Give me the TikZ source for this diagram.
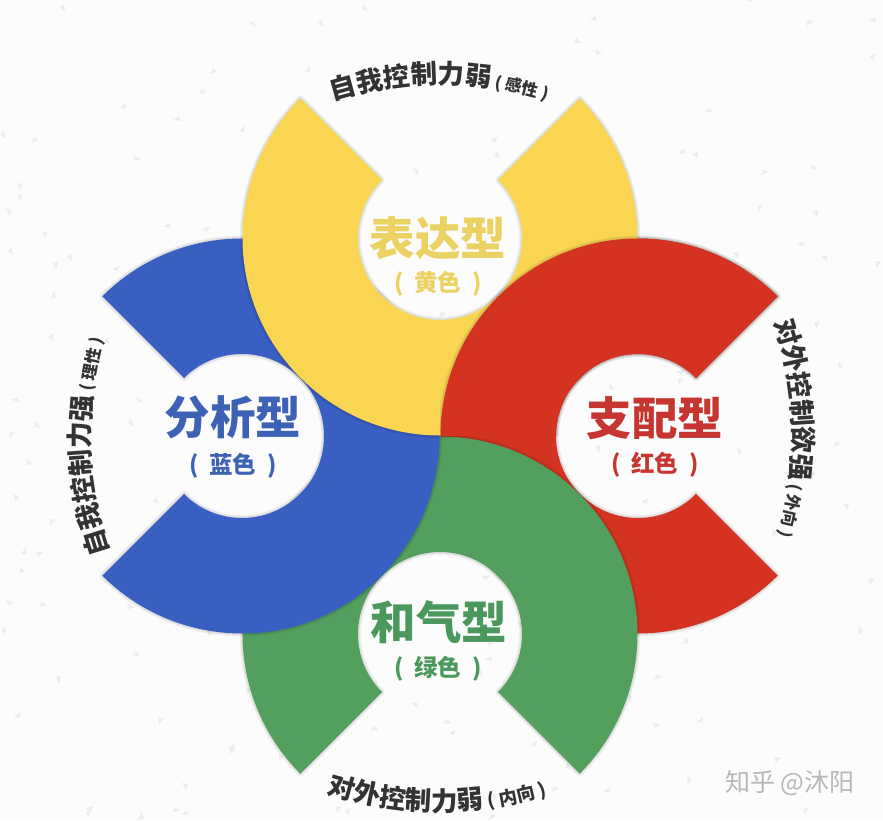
\documentclass[tikz,border=0pt]{standalone}
\usepackage{fontspec}
\usetikzlibrary{calc}
\usetikzlibrary{decorations.text}
\newfontfamily\cjk{Noto Sans CJK SC}
\newcommand{\bigtext}{\cjk\bfseries\fontsize{26.6}{27}\selectfont\color{arctext}}
\newcommand{\smalltext}{\cjk\bfseries\fontsize{16.5}{17}\selectfont\color{arctext}}
\newcommand{\lowtext}{\cjk\bfseries\fontsize{18.5}{19}\selectfont\color{arctext}}
\definecolor{arctext}{HTML}{333333}
\definecolor{petalyellow}{HTML}{F9D552}
\definecolor{petalblue}{HTML}{3A5FC2}
\definecolor{petalred}{HTML}{D53322}
\definecolor{petalgreen}{HTML}{529F5E}
\definecolor{textyellow}{HTML}{EBD162}
\definecolor{textblue}{HTML}{3D61B5}
\definecolor{textred}{HTML}{C73530}
\definecolor{textgreen}{HTML}{4A985B}
\newcommand{\petalpath}[2]{(#1) ++(#2:197.5) arc[start angle=#2, delta angle=270, radius=197.5] -- ($(#1)+(#2+270:82)$) arc[start angle=#2+270, delta angle=-270, radius=82] -- cycle}
\newcommand{\petal}[3]{
    \foreach \w in {6,4,2} {
        \draw[black, opacity=0.045, line width=\w pt, shift={(1,-2)}, line join=round] \petalpath{#1}{#2};
    }
    \fill[#3] \petalpath{#1}{#2};
}
\tikzset{
    typelabel/.style={font=\cjk\bfseries\fontsize{45.5}{46}\selectfont, inner sep=0pt},
    colorlabel/.style={font=\cjk\bfseries\fontsize{23.5}{24}\selectfont, inner sep=0pt},
    arclabel/.style={decorate, decoration={text along path, text={#1}}},
    speck/.style={fill=black!7}
}

\begin{document}
\begin{tikzpicture}[x=1pt, y=1pt]
    \useasboundingbox (0,0) rectangle (883,820);
    \fill[white!99!black] (0,0) rectangle (883,820);
    \pgfmathsetseed{11}
    \foreach \i in {1,...,190} {
        \pgfmathsetmacro{\px}{rnd*883}
        \pgfmathsetmacro{\py}{rnd*820}
        \pgfmathsetmacro{\pa}{rnd*360}
        \fill[speck, rotate around={\pa:(\px,\py)}] (\px,\py) -- ++(8,1) -- ++(-4,4) -- cycle;
    }
    \coordinate (mid) at (440,384);
    \coordinate (ctryellow) at (440,582);
    \coordinate (ctrblue) at (242,384);
    \coordinate (ctrred) at (638,384);
    \coordinate (ctrgreen) at (440,186);

    \petal{ctrred}{45}{petalred}
    \petal{ctrgreen}{-45}{petalgreen}
    \petal{ctrblue}{-135}{petalblue}
    \petal{ctryellow}{135}{petalyellow}
    \begin{scope}
        \clip (mid) rectangle (883,820);
        \petal{ctrred}{45}{petalred}
    \end{scope}

    \node[typelabel, text=textyellow] (typeyellow) at (438,582) {表达型};
    \node[colorlabel, text=textyellow] (subyellow) at (438,536) {(\hspace{.45em}黄色\hspace{.45em})};
    \node[typelabel, text=textblue] (typeblue) at (233,403) {分析型};
    \node[colorlabel, text=textblue] (subblue) at (233,354) {(\hspace{.45em}蓝色\hspace{.45em})};
    \node[typelabel, text=textred] (typered) at (655,402) {支配型};
    \node[colorlabel, text=textred] (subred) at (655,355) {(\hspace{.45em}红色\hspace{.45em})};
    \node[typelabel, text=textgreen] (typegreen) at (439,198) {和气型};
    \node[colorlabel, text=textgreen] (subgreen) at (438,151) {(\hspace{.45em}绿色\hspace{.45em})};

    \path[arclabel={|\bigtext|自我控制力弱|\smalltext| (  感性  )}] (mid) ++(107.7:352) arc[start angle=107.7, end angle=50, radius=352];
    \path[arclabel={|\bigtext|自我控制力强|\smalltext| (  理性  )}] (mid) ++(199.5:350) arc[start angle=199.5, end angle=145, radius=350];
    \path[arclabel={|\bigtext|对外控制欲强|\smalltext| (  外向  )}] (mid) ++(18.8:353) arc[start angle=18.8, end angle=-35, radius=353];
    \path[arclabel={|\bigtext|对外控制力弱|\lowtext| (  内向  )}] (mid) ++(252.4:375) arc[start angle=252.4, end angle=310, radius=375];

    \node[font=\cjk\fontsize{25}{25}\selectfont, text=black!28, inner sep=0pt] (mark) at (790,37) {知乎 @沐阳};
\end{tikzpicture}
\end{document}
